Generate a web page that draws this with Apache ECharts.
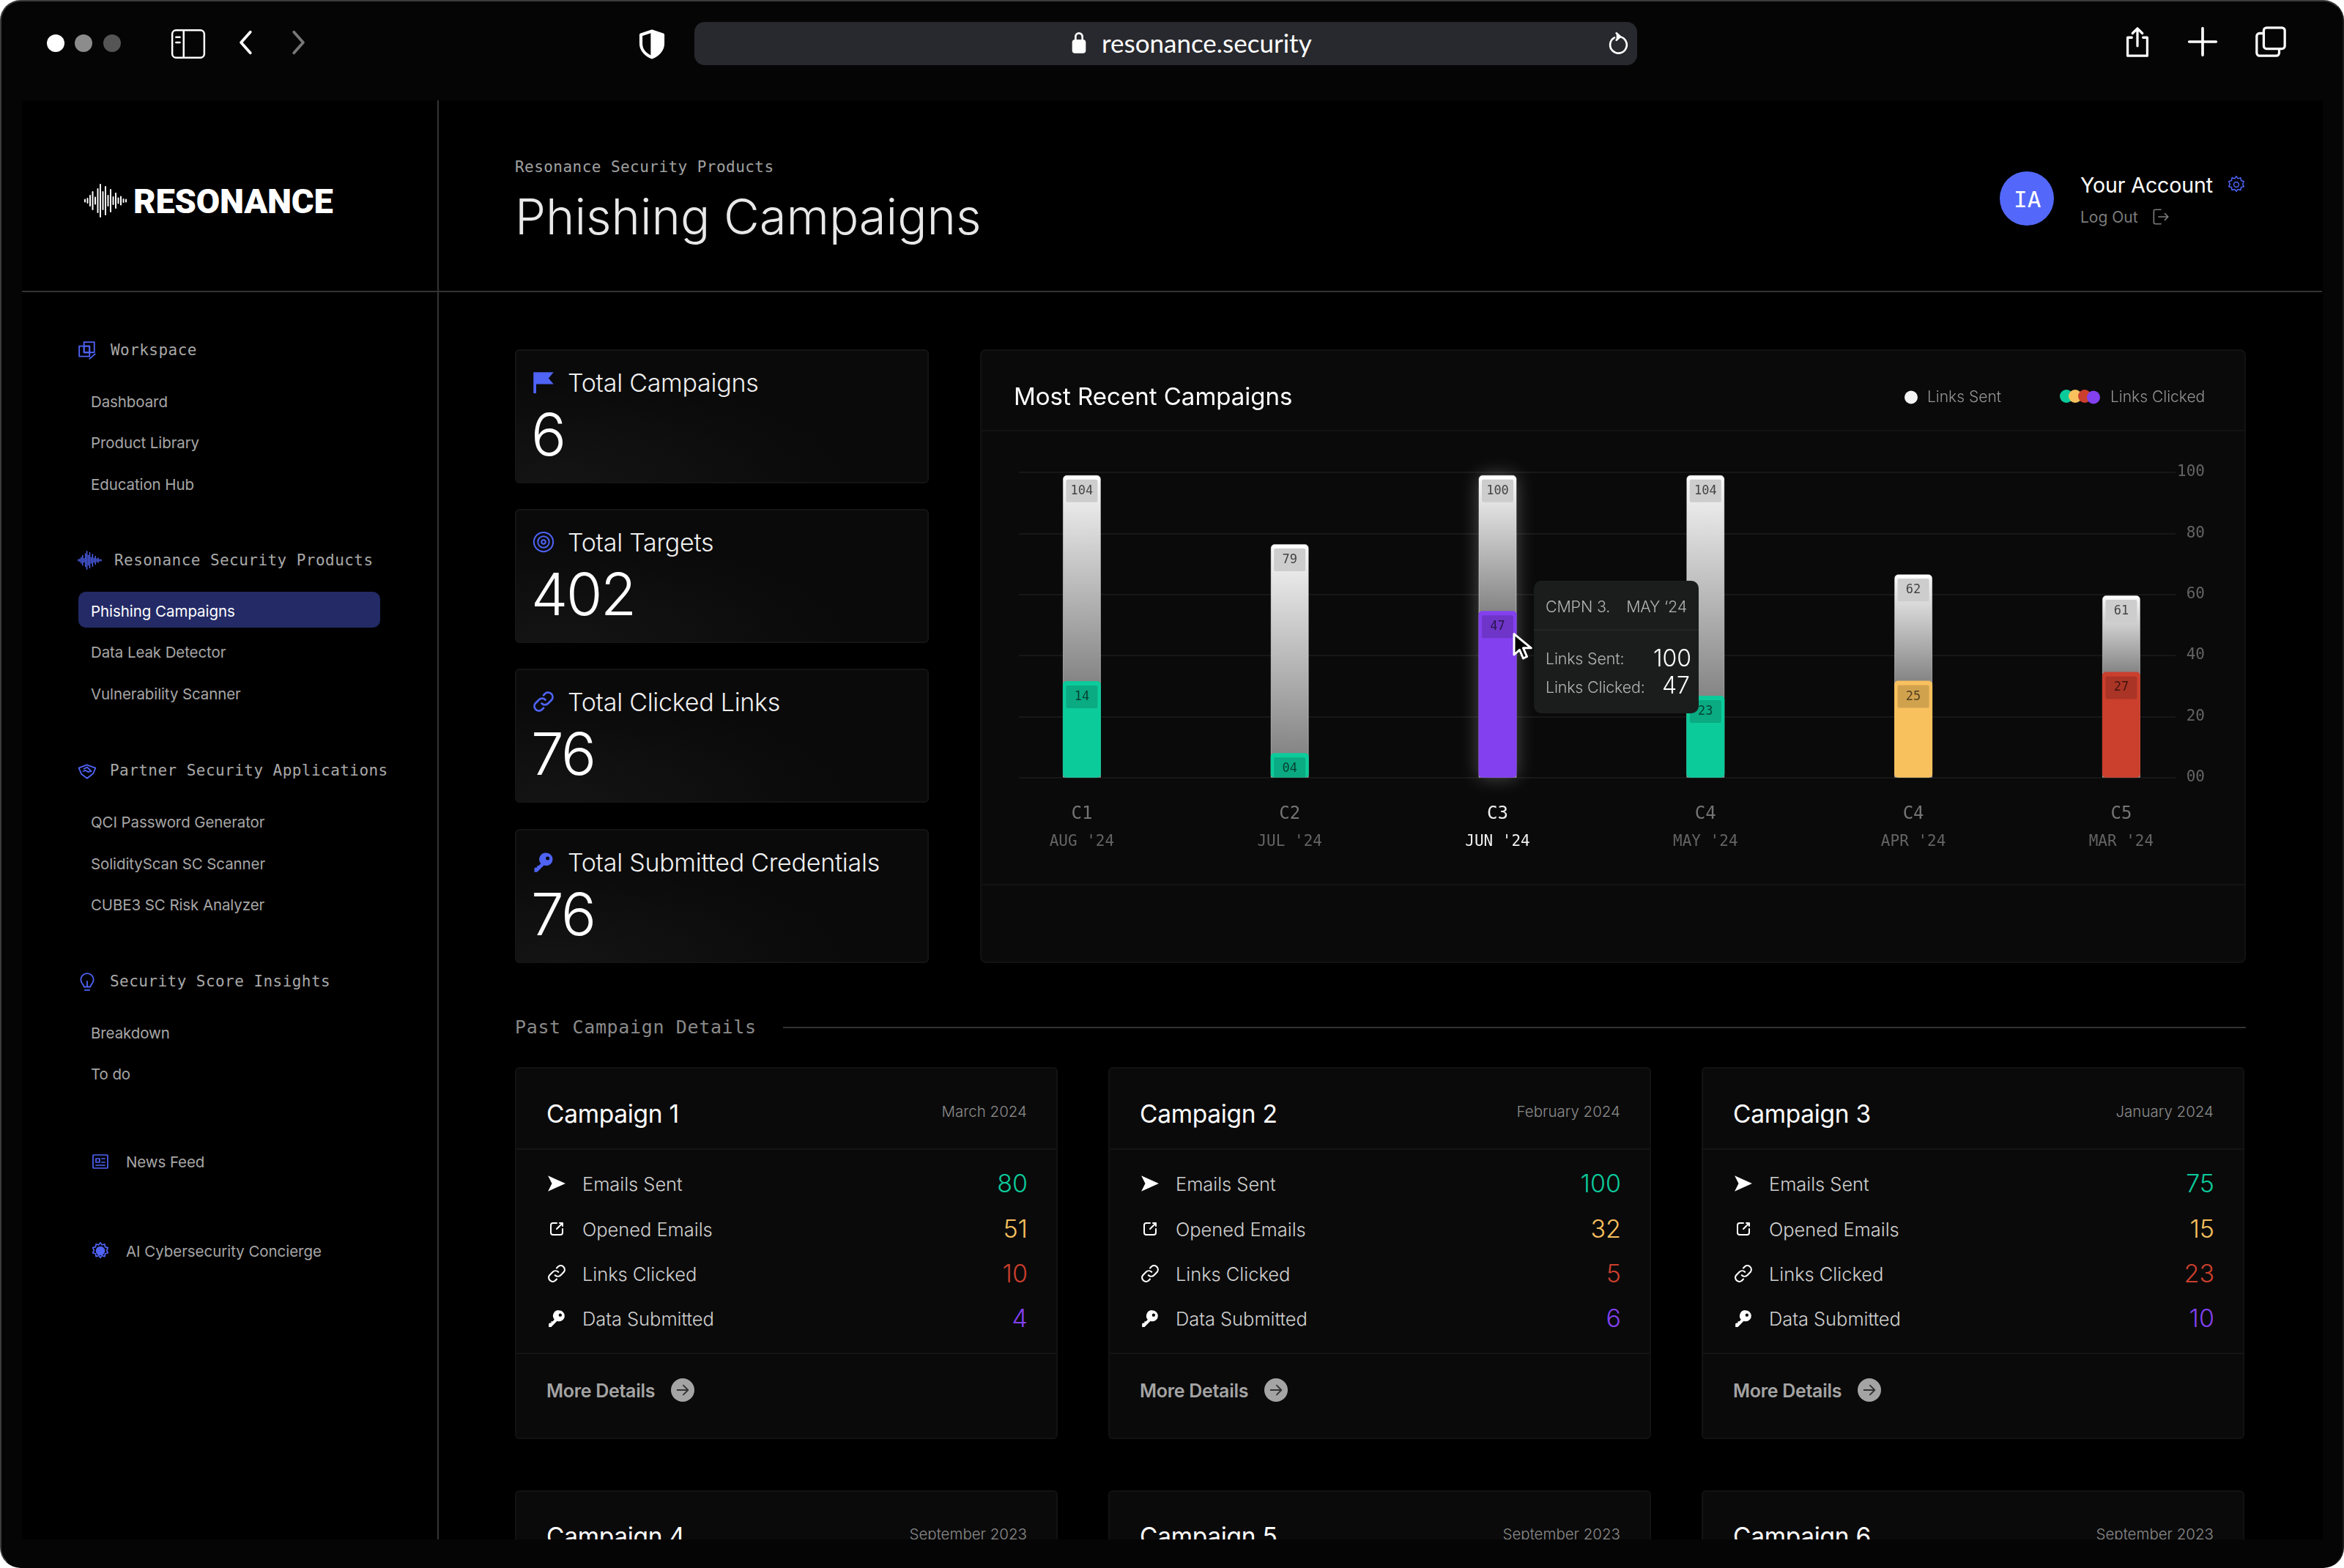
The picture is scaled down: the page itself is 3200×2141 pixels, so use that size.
<!DOCTYPE html>
<html><head><meta charset="utf-8"><title>Phishing Campaigns</title>
<script src="https://cdn.jsdelivr.net/npm/echarts@6/dist/echarts.min.js"></script>
<style>
html,body{margin:0;padding:0;background:#fff;width:3200px;height:2141px;overflow:hidden}
#frame{position:absolute;left:0;top:0;width:3200px;height:2141px;background:#050505;border-radius:28px;overflow:hidden;border:2px solid #3c3c3c;border-bottom-color:#050505;border-right-color:#1c1c1c;box-sizing:border-box}
#page{position:absolute;left:-2px;top:-2px;width:3200px;height:2141px}
.t{position:absolute;white-space:nowrap;transform:translateY(-50%);font-family:Inter,sans-serif;font-weight:300}
.b{position:absolute;box-sizing:border-box}
svg{position:absolute;overflow:visible}
</style></head><body>
<div id="frame"><div id="page"></div></div>
<script>
// ---- chart data ----
const categories = ['C1','C2','C3','C4','C4','C5'];
const months = ["AUG '24","JUL '24","JUN '24","MAY '24","APR '24","MAR '24"];
const sentLevels = [99.1,76.5,99.1,99.1,66.6,59.7];
const clickedLevels = [31.6,8,54.6,26.8,31.7,34.6];
const sentLabels = ['104','79','100','104','62','61'];
const clickedLabels = ['14','04','47','23','25','27'];
const clickedColors = ['#0ccb9b','#0ccb9b','#8340ef','#0ccb9b','#f9c15e','#cb3f2d'];
const yTicks = [0,20,40,60,80,100];
// ---- page text data ----
const statTitles = ['Total Campaigns','Total Targets','Total Clicked Links','Total Submitted Credentials'];
const statValues = ['6','402','76','76'];
const campaignNames = ['Campaign 1','Campaign 2','Campaign 3','Campaign 4','Campaign 5','Campaign 6'];
const campaignDates = ['March 2024','February 2024','January 2024','September 2023','September 2023','September 2023'];
const rowLabels = ['Emails Sent','Opened Emails','Links Clicked','Data Submitted'];
const emailsSent = [80,100,75];
const openedEmails = [51,32,15];
const linksClicked = [10,5,23];
const dataSubmitted = [4,6,10];

const page = document.getElementById('page');
const SANS='Inter,sans-serif', MONO='"DejaVu Sans Mono",monospace';
function t(s,x,y,o={}){const e=document.createElement('div');e.className='t';e.textContent=s;
  if(o.right)e.style.right=(3200-x)+'px';else e.style.left=x+'px';e.style.top=y+'px';
  e.style.fontSize=(o.size||21)+'px';e.style.color=o.color||'#fff';
  if(o.font)e.style.fontFamily=o.font;if(o.weight)e.style.fontWeight=o.weight;
  if(o.ls!=null)e.style.letterSpacing=o.ls+'px';if(o.z)e.style.zIndex=o.z;page.appendChild(e);return e}
function box(x,y,w,h,css){const e=document.createElement('div');e.className='b';
  e.style.cssText+=`left:${x}px;top:${y}px;width:${w}px;height:${h}px;`+(css||'');page.appendChild(e);return e}
function ic(x,y,s,inner,o={}){const n='http://www.w3.org/2000/svg';const e=document.createElementNS(n,'svg');
  e.setAttribute('viewBox','0 0 24 24');e.setAttribute('width',s);e.setAttribute('height',s);
  e.style.left=(x-s/2)+'px';e.style.top=(y-s/2)+'px';if(o.z)e.style.zIndex=o.z;
  const c=o.color||'#fff';
  e.innerHTML=`<g fill="${o.fill?c:'none'}" stroke="${o.fill?'none':c}" stroke-width="${o.sw||2}" stroke-linecap="round" stroke-linejoin="round">${inner}</g>`;
  page.appendChild(e);return e}
const BLUE='#4f63f5';
const GEAR='<circle cx="12" cy="12" r="3.200"/><path d="M12 1.500l2 3 3.500-1 .5 3.500 3.500 1-1.500 3.500 1.500 3-3.500 1-.5 3.500-3.500-1-2 2.500-2-2.500-3.500 1-.5-3.500-3.500-1 1.500-3-1.500-3.500 3.500-1 .5-3.500 3.500 1z"/>';
const I={flag:'<path d="M1 24V1h22l-5.500 6.500L23 14H4v10z"/>',
 target:'<circle cx="12" cy="12" r="10.5"/><circle cx="12" cy="12" r="6.2"/><circle cx="12" cy="12" r="2.2"/>',
 link:'<path d="M10 14a5 5 0 0 0 7 0l4-4a5 5 0 0 0-7-7l-2 2"/><path d="M14 10a5 5 0 0 0-7 0l-4 4a5 5 0 0 0 7 7l2-2"/>',
 key:'<path d="M15 2a7 7 0 0 1 0 14 7 7 0 0 1-2.500-.5L5 23H2v-4l1-1h2v-2h2l2-2.500A7 7 0 0 1 15 2zm1.500 4a2 2 0 1 0 0 4 2 2 0 0 0 0-4z" fill-rule="evenodd"/>',
 send:'<path d="M1 2l22 10L1 22l5-10z"/>',
 open:'<path d="M12 4H7a3 3 0 0 0-3 3v10a3 3 0 0 0 3 3h10a3 3 0 0 0 3-3v-5"/><path d="M12 12l8-8M16 4h4v4"/>'};
const wave=[3,6,14,24,9,32,44,24,38,14,30,10,20,7,11,4,3];
function waveSvg(x,y,w,color,sw){const n='http://www.w3.org/2000/svg';const e=document.createElementNS(n,'svg');
  e.setAttribute('width',w);e.setAttribute('height',wave.length);e.style.left=x+'px';e.style.top=y+'px';
  const step=w/(wave.length-1),k=w/56;
  e.innerHTML=wave.map((h,i)=>`<line x1="${i*step}" x2="${i*step}" y1="${-h*k/2}" y2="${h*k/2}" stroke="${color}" stroke-width="${sw}" stroke-linecap="round"/>`).join('');
  page.appendChild(e)}

// ---- browser chrome ----
box(30,137,3141,1965,'background:#000');
[['#fff',76],['#8c8c8c',114],['#555',153]].forEach(([c,x])=>box(x-12,47,24,24,`background:${c};border-radius:50%`));
ic(257,60,50,'<rect x="1.500" y="3" width="21" height="18" rx="2.500"/><path d="M9 3v18M4 7.500h2.500M4 11h2.500"/>',{sw:1.2});
ic(337,58,38,'<path d="M15 3L7 12l8 9"/>',{sw:2.4});ic(406,58,38,'<path d="M9 3l8 9-8 9"/>',{sw:2.4,color:'#777'});
ic(890,60,40,'<path d="M12 1.500l9 3v7c0 5.500-4 9.500-9 11.500-5-2-9-6-9-11.500v-7z" fill="none" stroke="#fff" stroke-width="2.500"/><path d="M12 2l8.500 3v6.500c0 5-3.500 9-8.500 11z" fill="#fff"/>');
box(948,30,1287,59,'background:#28292e;border-radius:14px');
ic(1473,58,32,'<rect x="6" y="10" width="12" height="12" rx="2" fill="#fff"/><path d="M8.500 10V6a3.500 3.500 0 0 1 7 0v4"/>');
t('resonance.security',1504,58,{size:35,font:'Lato,sans-serif',weight:400});
ic(2208,60,32,'<path d="M14 4.500a8.500 8.500 0 1 1-5 1"/><path d="M11 1l4 3.500-4 3.500" fill="#fff"/>',{sw:2});
ic(2918,57,46,'<path d="M8 9H5v13h14V9h-3M12 15V3M8.500 6L12 2.500 15.500 6"/>',{sw:1.7});
ic(3007,57,44,'<path d="M12 2v20M2 12h20"/>',{sw:2});
ic(3100,57,46,'<rect x="7" y="2" width="15" height="15" rx="2"/><path d="M7 6H4a2 2 0 0 0-2 2v12a2 2 0 0 0 2 2h12a2 2 0 0 0 2-2v-3"/>',{sw:1.7});

// ---- shell lines ----
box(28,397,3142,2,'background:#333');
box(597,137,2,1965,'background:#333');

// ---- logo & header ----
waveSvg(116,274,56,'#fff',2);
t('RESONANCE',182,274,{size:47,font:'Roboto,sans-serif',weight:900,ls:-0.2});
t('Resonance Security Products',703,228,{size:21,font:MONO,color:'#a0a0a0',ls:0.45,weight:400});
t('Phishing Campaigns',703,295,{size:67,color:'#e8e8e8',weight:300,ls:-0.05});
box(2730,234,74,74,'background:#5368fa;border-radius:50%');
t('IA',2749,272,{size:31,font:MONO,weight:400});
t('Your Account',2840,252,{size:28.5,weight:400,ls:-0.1});
t('Log Out',2840,296,{size:21,color:'#7c7c7c',weight:400});
ic(2949,296,26,'<path d="M13 3H6a2 2 0 0 0-2 2v14a2 2 0 0 0 2 2h7M10 12h12M18 8l4 4-4 4"/>',{color:'#7c7c7c',sw:1.5});
ic(3053,252,26,GEAR,{color:BLUE,sw:1.4});

// ---- sidebar ----
const headings=[['Workspace',151,478],['Resonance Security Products',156,765],['Partner Security Applications',150,1052],['Security Score Insights',150,1340]];
headings.forEach(([s,x,y])=>t(s,x,y,{size:21,font:MONO,color:'#a8a8a8',ls:0.45,weight:400}));
const items=[['Dashboard',548],['Product Library',604],['Education Hub',661],['Data Leak Detector',890],['Vulnerability Scanner',947],['QCI Password Generator',1122],['SolidityScan SC Scanner',1179],['CUBE3 SC Risk Analyzer',1235],['Breakdown',1410],['To do',1466]];
items.forEach(([s,y])=>t(s,124,y,{size:20.5,color:'#a6a6a6',weight:400,ls:-0.1}));
box(107,808,412,49,'background:#232a66;border-radius:10px');
t('Phishing Campaigns',124,834,{size:20.5,weight:400,ls:-0.05});
t('News Feed',172,1586,{size:20.5,color:'#a6a6a6',weight:400,ls:-0.1});
t('AI Cybersecurity Concierge',172,1708,{size:20.5,color:'#a6a6a6',weight:400,ls:-0.05});
ic(119,478,26,'<rect x="2" y="7" width="13" height="13"/><rect x="8" y="2" width="13" height="13"/><rect x="8" y="7" width="7" height="8"/><path d="M15 23l7-6"/>',{color:BLUE,sw:1.7});
waveSvg(107,765,31,BLUE,1.4);
ic(119,1053,26,'<path d="M1.500 8l10-4 11 4-3 7-7.500 6-7-5zM8 9l4-2 5 5-4 1-3-2-3 1"/>',{color:BLUE,sw:1.7});
ic(119,1341,26,'<path d="M8 18c0-3-4-4-4-9a8 8 0 0 1 16 0c0 5-4 6-4 9zM9 22h6M12 18v-7"/>',{color:BLUE,sw:1.7});
ic(137,1586,24,'<rect x="2" y="3" width="20" height="18" rx="1"/><path d="M6 8h5v5H6zM14 8h4M14 13h4M6 17h12"/>',{color:BLUE,sw:1.7});
ic(137,1708,26,GEAR+'<circle cx="12" cy="12" r="5" fill="'+BLUE+'"/>',{color:BLUE,sw:1.6});

// ---- stat cards ----
const cardBg='background:radial-gradient(ellipse at 10% 100%,#141414,#0a0a0a 55%);border:2px solid #141414;border-radius:6px;';
const statTops=[477,695,913,1132];
const statIcons=[[I.flag,{fill:1,color:BLUE}],[I.target,{color:BLUE,sw:1.6}],[I.link,{color:BLUE,sw:2.2}],[I.key,{fill:1,color:BLUE}]];
statTitles.forEach((s,i)=>{const y=statTops[i];box(703,y,565,183,cardBg);
  ic(742,y+45,30,statIcons[i][0],statIcons[i][1]);
  t(s,775,y+45,{size:34,color:'#f0f0f0',ls:-0.25});
  t(statValues[i],725,y+115,{size:80,weight:300,ls:-2.4});});

// ---- past campaigns ----
t('Past Campaign Details',703,1402,{size:25,font:MONO,color:'#8a8a8a',ls:0.65,weight:400});
box(1069,1402,1997,2,'background:#333');
const cardX=[703,1513,2323];
const rowY=[1616,1678,1739,1800];
const rowColors=['#0ccb9b','#f9c15e','#cb3f2d','#8340ef'];
const rowIcons=[[I.send,{fill:1}],[I.open,{sw:2}],[I.link,{sw:2}],[I.key,{fill:1}]];
const soft='background:#0a0a0a;border:2px solid #121212;border-radius:6px;';
[0,1,2].forEach(i=>{const x=cardX[i];box(x,1457,741,508,soft);
  box(x,1568,741,2,'background:#141414');box(x,1847,741,2,'background:#141414');
  t(campaignNames[i],x+43,1521,{size:33.5,weight:400,ls:-0.3});
  t(campaignDates[i],x+699,1517,{size:20.5,right:1,color:'#8a8a8a'});
  const vals=[emailsSent[i],openedEmails[i],linksClicked[i],dataSubmitted[i]];
  rowLabels.forEach((l,r)=>{ic(x+57,rowY[r],r===1?24:26,rowIcons[r][0],rowIcons[r][1]);
    t(l,x+92,rowY[r],{size:25.5,color:'#d0d0d0',ls:-0.05});
    t(String(vals[r]),x+700,rowY[r]-1,{size:34,right:1,color:rowColors[r]});});
  t('More Details',x+43,1899,{size:25,weight:600,color:'#a4a4a4',ls:-0.3});
  box(x+213,1882,32,32,'background:#a4a4a4;border-radius:50%');
  ic(x+229,1898,22,'<path d="M4 12h16M13 5l7 7-7 7"/>',{color:'#333',sw:2});
  box(x,2035,741,200,soft);
  t(campaignNames[i+3],x+43,2098,{size:33.5,weight:400,ls:-0.3});
  t(campaignDates[i+3],x+699,2094,{size:20.5,right:1,color:'#8a8a8a'});
});
box(0,2102,3200,39,'background:#050505;z-index:5');
box(3171,137,29,1965,'background:#050505;z-index:5');
box(0,137,30,1965,'background:#050505;z-index:5');

// ---- chart card ----
box(1338,477,1728,838,'background:#0a0a0a;border:2px solid #121212;border-radius:8px');
box(1338,587,1728,2,'background:#131313');
box(1338,1207,1728,2,'background:#131313');
const chartEl=document.createElement('div');
chartEl.id='chart';chartEl.style.cssText='position:absolute;left:1300px;top:477px;width:1790px;height:838px;z-index:2';
page.appendChild(chartEl);

const OX=1300,OY=477;
const chart=echarts.init(chartEl,null,{renderer:'canvas'});
const sentData=sentLevels.map((v,i)=>{const stop=1-clickedLevels[i]/v;return{value:v,itemStyle:{
  color:{type:'linear',x:0,y:0,x2:0,y2:1,colorStops:[{offset:0,color:'#ffffff'},{offset:0.012,color:'#ffffff'},{offset:0.02,color:'#f5f5f5'},{offset:stop,color:'#858585'},{offset:1,color:'#858585'}]},
  borderColor:'rgba(255,255,255,0.45)',borderWidth:1,
  ...(i===2?{shadowBlur:26,shadowColor:'rgba(255,255,255,0.28)'}:{})}}});
const clickedData=clickedLevels.map((v,i)=>({value:v,itemStyle:{color:clickedColors[i]}}));
const chipLabel=(labels,bg,fg)=>({show:true,position:'insideTop',distance:6,
  formatter:p=>labels[p.dataIndex],fontFamily:MONO,fontSize:17,color:fg,backgroundColor:bg,
  width:43,height:31,lineHeight:31,align:'center',borderRadius:2});
const axisName=(v,i)=>{const s=i===2?'2':'';return `{a${s}|${categories[i]}}\n{b${s}|${months[i]}}`};
const richLine=(size,color)=>({fontFamily:MONO,fontSize:size,color,lineHeight:37});
chart.setOption({
  animation:false,backgroundColor:'transparent',
  title:{text:'Most Recent Campaigns',left:1384-OX,top:50,padding:0,textStyle:{fontFamily:SANS,fontSize:33,fontWeight:400,color:'#fff'}},
  legend:[
    {data:[{name:'Links Sent',icon:'circle',itemStyle:{color:'#f4f4f4'}}],left:2600-OX,top:55,padding:0,itemWidth:18,itemHeight:18,selectedMode:false,
     textStyle:{fontFamily:SANS,fontSize:21,fontWeight:300,color:'#949494',padding:[0,0,0,8]}},
    {data:[{name:'Links Clicked',icon:'circle',itemStyle:{color:'#8340ef'}}],left:2849-OX,top:55,padding:0,itemWidth:18,itemHeight:18,selectedMode:false,
     textStyle:{fontFamily:SANS,fontSize:21,fontWeight:300,color:'#949494',padding:[0,0,0,9]}}],
  graphic:[['#0ccb9b',2821],['#f9c15e',2833],['#cb3f2d',2846]].map(([c,x],i)=>({type:'circle',z:1+i,silent:true,
     shape:{cx:x-OX,cy:64,r:9},style:{fill:c}})),
  grid:[{left:1391-OX,top:645-OY,width:1579,height:416.7},{left:1335-OX,top:645-OY,width:1702.8,height:416.7}],
  xAxis:[{gridIndex:0,type:'value',min:0,max:1,show:false},
    {gridIndex:1,type:'category',data:categories,axisLine:{show:false},axisTick:{show:false},
     axisLabel:{interval:0,margin:32,formatter:axisName,rich:{a:richLine(24,'#747474'),b:richLine(21,'#646464'),a2:richLine(24,'#f0f0f0'),b2:richLine(21,'#f0f0f0')}}}],
  yAxis:[{gridIndex:0,type:'value',position:'right',min:yTicks[0],max:yTicks[yTicks.length-1],interval:yTicks[1]-yTicks[0],
     axisLine:{show:false},axisTick:{show:false},splitLine:{lineStyle:{color:'#171717',width:2}},
     axisLabel:{align:'right',margin:40,padding:[7,0,0,0],fontFamily:MONO,fontSize:21,color:'#646464',formatter:v=>v===0?'00':String(v)}},
    {gridIndex:1,type:'value',min:0,max:100,show:false}],
  tooltip:{trigger:'item',alwaysShowContent:true,transitionDuration:0,showDelay:0,padding:0,borderWidth:0,
    backgroundColor:'transparent',shadowBlur:0,extraCssText:'box-shadow:none;',position:[2094-OX,793-OY],
    formatter:p=>{const i=p.dataIndex;const l=`position:absolute;left:16px;white-space:nowrap;font-family:${SANS};font-size:21.5px;font-weight:300;color:#b4b4b4;letter-spacing:-0.2px;`;
      const r=`position:absolute;white-space:nowrap;font-family:${SANS};font-size:32px;font-weight:300;color:#fff;`;
      return `<div style="position:relative;width:225px;height:181px;background:#1b1d1d;border-radius:10px">
        <div style="${l}top:25px">CMPN 3.</div><div style="${l}left:auto;right:16px;top:25px">MAY ‘24</div>
        <div style="position:absolute;left:0;right:0;top:66px;height:2px;background:#232525"></div>
        <div style="${l}top:96px">Links Sent:</div><div style="${r}right:10px;top:95px">${sentLabels[i]}</div>
        <div style="${l}top:135px">Links Clicked:</div><div style="${r}right:12px;top:132px">${clickedLabels[i]}</div></div>`}},
  series:[
    {name:'Links Sent',type:'bar',xAxisIndex:1,yAxisIndex:1,barWidth:52,barGap:'-100%',data:sentData,
     itemStyle:{borderRadius:[5,5,0,0]},label:chipLabel(sentLabels,'#cdcdcd','#444'),z:2},
    {name:'Links Clicked',type:'bar',xAxisIndex:1,yAxisIndex:1,barWidth:52,barGap:'-100%',data:clickedData,
     itemStyle:{borderRadius:5},label:chipLabel(clickedLabels,'rgba(0,0,0,0.16)','rgba(0,0,0,0.62)'),z:3}]
});
chart.dispatchAction({type:'showTip',seriesIndex:0,dataIndex:2});
// pointer on top of the tooltip
ic(2082,884,40,'<path d="M3 1l0 17 4.500-4 3 7 3-1.500-3-7H17z" fill="#000"/>',{z:6,sw:1.8});
</script></body></html>
